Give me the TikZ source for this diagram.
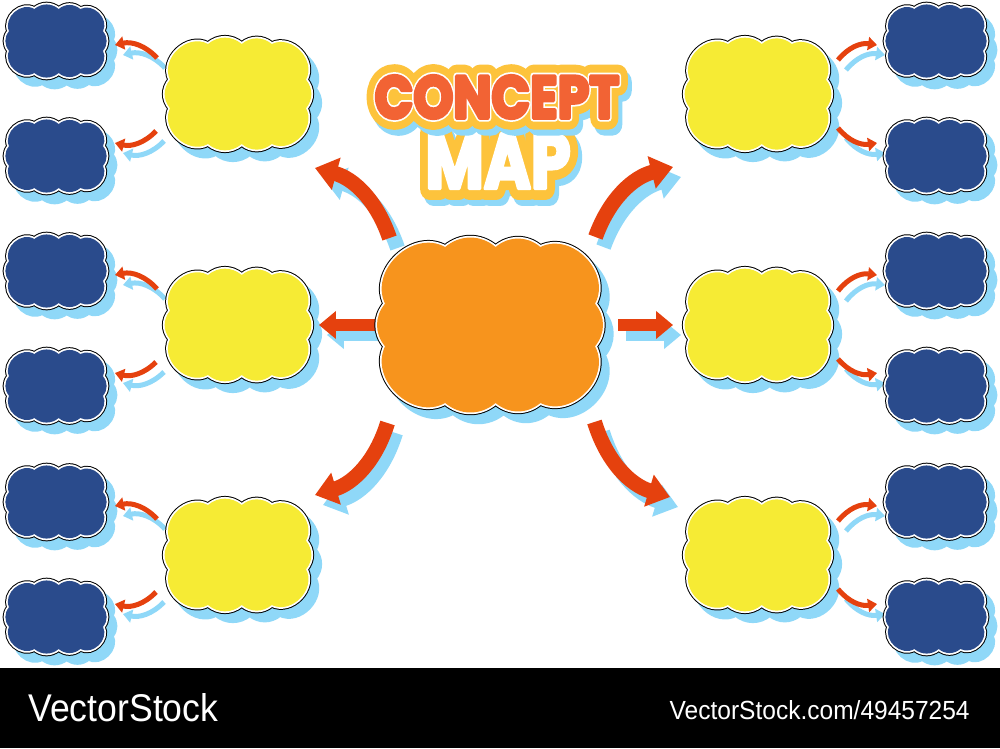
\documentclass[tikz,border=0pt]{standalone}
\usepackage{fontspec}
\usetikzlibrary{arrows.meta}
\usetikzlibrary{calc}
\newfontfamily\titlefont{Poppins}
\newfontfamily\brandfont{Liberation Sans}

\definecolor{cloudorange}{HTML}{F7941D}
\definecolor{cloudyellow}{HTML}{F6EB34}
\definecolor{cloudnavy}{HTML}{2A4B8C}
\definecolor{skyblue}{HTML}{8FD8F8}
\definecolor{arrowred}{HTML}{E5410E}
\definecolor{titlered}{HTML}{F26334}
\definecolor{titleyellow}{HTML}{FDC33C}

\tikzset{
  scallop/.style={bend left=40},
  bigbump/.style={bend left=72, looseness=1.15},
  cloudspot/.style={inner sep=0pt, outer sep=0pt},
  yellowspot/.style={cloudspot, minimum width=3cm, minimum height=2.28cm},
  navyspot/.style={cloudspot, minimum width=2.16cm, minimum height=1.58cm},
  thickarrow/.style={line width=0.3cm, -{Triangle[width=0.64cm,length=0.44cm]}},
  flatarrow/.style={line width=0.24cm, -{Triangle[width=0.54cm,length=0.34cm]}},
  thinarrow/.style={line width=0.1cm, -{Triangle[width=0.26cm,length=0.18cm]}},
}

\newcommand{\cloudpath}[3]{%
  ([shift={({-0.4*#2},{7-#3})}]#1.center)
  to[scallop] ([shift={({0.05*#2},{7-#3})}]#1.center)
  to[scallop] ([shift={({0.45*#2},{7-#3})}]#1.center)
  to[bigbump] ([shift={({#2-7},{-0.25*#3})}]#1.center)
  to[scallop] ([shift={({#2-7},{0.25*#3})}]#1.center)
  to[bigbump] ([shift={({0.45*#2},{#3-7})}]#1.center)
  to[scallop] ([shift={({0.05*#2},{#3-7})}]#1.center)
  to[scallop] ([shift={({-0.4*#2},{#3-7})}]#1.center)
  to[bigbump] ([shift={({7-#2},{0.25*#3})}]#1.center)
  to[scallop] ([shift={({7-#2},{-0.25*#3})}]#1.center)
  to[bigbump] ([shift={({-0.4*#2},{7-#3})}]#1.center) -- cycle}

\newcommand{\cloudbody}[4]{%
  \draw[black, line width=0.11cm] \cloudpath{#1}{#2}{#3};
  \draw[white, line width=0.07cm] \cloudpath{#1}{#2}{#3};
  \fill[#4] \cloudpath{#1}{#2}{#3};}

\newcommand{\strokedtext}[2]{\special{pdf:literal direct 2 Tr #1 w 1 j}#2\special{pdf:literal direct 0 Tr}}
\newcommand{\titlebox}[3]{\scalebox{#2}[1]{\titlefont\bfseries\fontsize{#1}{#1}\selectfont #3}}

\newcommand{\titleword}[7]{%
  \node[text=skyblue, inner sep=0pt] (#1s) at ($(#2)+(4,6)$) {\titlebox{#3}{#4}{\strokedtext{13}{#7}}};
  \node[text=titleyellow, inner sep=0pt] (#1o) at (#2) {\titlebox{#3}{#4}{\strokedtext{13}{#7}}};
  \node[text=#6, inner sep=0pt] (#1w) at (#2) {\titlebox{#3}{#4}{\strokedtext{4}{#7}}};
  \node[text=#5, inner sep=0pt] (#1) at (#2) {\titlebox{#3}{#4}{\strokedtext{2}{#7}}};}

\begin{document}
\begin{tikzpicture}[x=0.02cm, y=-0.02cm, line join=round]
  \useasboundingbox (0,0) rectangle (1000,748);
  \fill[white] (0,0) rectangle (1000,748);
  \fill[black] (0,668) rectangle (1000,748);

  \node[cloudspot, minimum width=4.5cm, minimum height=3.4cm] (C) at (490,325) {};
  \foreach \k/\y in {1/94,2/325,3/555} {
    \node[yellowspot] (L\k) at (238,\y) {};
    \node[yellowspot] (R\k) at (758,\y) {};
  }
  \foreach \k/\y in {1/41,2/156,3/271,4/386,5/502,6/617} {
    \node[navyspot] (BL\k) at (56,\y) {};
    \node[navyspot] (BR\k) at (936,\y) {};
  }

  % shadows of the clouds
  \begin{scope}[skyblue, line width=0.11cm, transform canvas={shift={(8,9)}}]
    \filldraw \cloudpath{C}{112}{85};
    \foreach \n in {L1,L2,L3,R1,R2,R3} \filldraw \cloudpath{\n}{75}{57};
    \foreach \s in {L,R} \foreach \k in {1,...,6} \filldraw \cloudpath{B\s\k}{54}{39};
  \end{scope}

  % arrows, first the blue copy then the red one
  \foreach \col/\dx/\dy in {skyblue/8/10, arrowred/0/0} {
    \begin{scope}[\col, transform canvas={shift={(\dx,\dy)}}]
      \draw[flatarrow] ([shift={(-2,0)}]C.west) -- ([shift={(6,0)}]L2.east);
      \draw[flatarrow] ([shift={(16,0)}]C.east) -- ([shift={(-10,0)}]R2.west);
      \draw[thickarrow] ([shift={(12,-2)}]C.north west) to[bend right=28] ([shift={(2,17)}]L1.south east);
      \draw[thickarrow] ([shift={(-7,-3)}]C.north east) to[bend left=28] ([shift={(-10,16)}]R1.south west);
      \draw[thickarrow] ([shift={(10,13)}]C.south west) to[bend left=28] ([shift={(2,-3)}]L3.north east);
      \draw[thickarrow] ([shift={(-8,12)}]C.south east) to[bend right=28] ([shift={(-13,-1)}]R3.north west);
      \foreach \k/\u/\d in {1/1/2,2/3/4,3/5/6} {
        \draw[thinarrow] ([shift={(-6,-36)}]L\k.west) to[bend right=30] ([shift={(5,4)}]BL\u.east);
        \draw[thinarrow] ([shift={(-7,37)}]L\k.west) to[bend left=30] ([shift={(5,-13)}]BL\d.east);
        \draw[thinarrow] ([shift={(5,-34)}]R\k.east) to[bend left=30] ([shift={(-5,4)}]BR\u.west);
        \draw[thinarrow] ([shift={(5,34)}]R\k.east) to[bend right=30] ([shift={(-5,-13)}]BR\d.west);
      }
    \end{scope}
  }

  \cloudbody{C}{112}{85}{cloudorange}
  \foreach \n in {L1,L2,L3,R1,R2,R3} {\cloudbody{\n}{75}{57}{cloudyellow}}
  \foreach \s in {L,R} \foreach \k in {1,...,6} {\cloudbody{B\s\k}{54}{39}{cloudnavy}}

  \titleword{map}{498,161}{44.5}{0.815}{white}{titleyellow}{MAP}
  \titleword{concept}{497,97}{34}{0.85}{titlered}{white}{CONCEPT}

  \node[text=white, inner sep=0pt, anchor=west] (brand) at (28,708) {\resizebox{3.8cm}{0.56cm}{\brandfont VectorStock}};
  \node[text=white, inner sep=0pt, anchor=east] (ref) at (970,710) {\resizebox{6cm}{0.38cm}{\brandfont VectorStock.com/49457254}};
\end{tikzpicture}
\end{document}
